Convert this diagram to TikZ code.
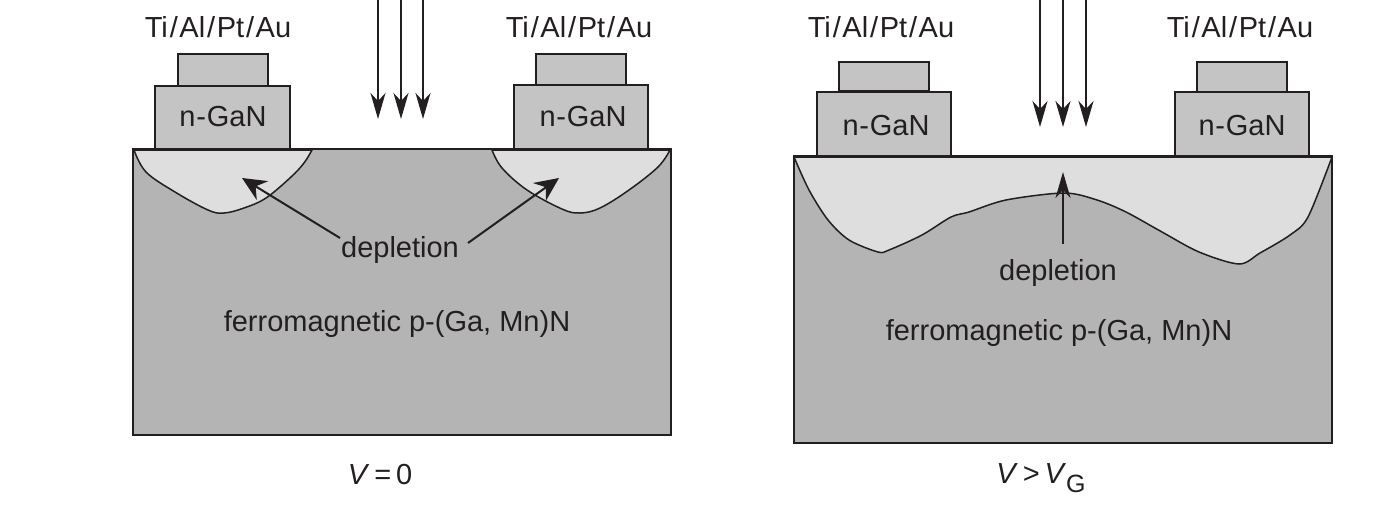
\documentclass[tikz,border=0pt]{standalone}
\usepackage{fontspec}
\setmainfont{Liberation Sans}
\usetikzlibrary{arrows.meta}
\definecolor{ink}{HTML}{231F20}
\definecolor{bulk}{HTML}{B4B4B4}
\definecolor{depl}{HTML}{DEDEDE}
\definecolor{pad}{HTML}{C4C4C4}
\newcommand{\metals}{Ti\kern2pt/\kern1.5ptAl\kern2pt/\kern1.5ptPt\kern2pt/\kern1.5ptAu}
\newcommand{\ngan}{n\kern0.8pt-\kern0.8ptGaN}
\tikzset{
  lbl/.style={text=ink,inner sep=0pt,font=\fontsize{29}{33}\selectfont},
  blk/.style={draw=ink,line width=1.7pt,fill=pad},
  bulkbox/.style={draw=ink,line width=1.8pt,fill=bulk},
  deplreg/.style={draw=ink,line width=1.5pt,fill=depl},
  arr/.style={draw=ink,line width=2pt,-{Stealth[length=26pt,width=15pt,inset=8pt]}},
  arrb/.style={draw=ink,line width=2pt,-{Stealth[length=24pt,width=22pt,inset=8pt]}},
}
\begin{document}
\begin{tikzpicture}[x=1pt,y=-1pt]
\useasboundingbox (0,0) rectangle (1391,506);
% left panel
\path[bulkbox] (133,149) rectangle (671,435);
\path[deplreg] plot[smooth,tension=0.6] coordinates {(134,150) (146,172) (175,192) (208,210) (224,213) (244,208) (266,198) (291,177) (304,163) (312,150)} -- cycle;
\path[deplreg] plot[smooth,tension=0.6] coordinates {(492,150) (502,168) (527,190) (562,209) (580,213) (600,208) (629,190) (658,167) (670,150)} -- cycle;
\draw[ink,line width=1.8pt] (133,149) -- (671,149);
\path[blk] (178,54) rectangle (268,86);
\path[blk] (155,86) rectangle (290,149);
\path[blk] (536,54) rectangle (626,85);
\path[blk] (514,85) rectangle (648,149);
\node[lbl] (lt1) at (218,27) {\metals};
\node[lbl] (lt2) at (579,27) {\metals};
\node[lbl] (ln1) at (223,117) {\ngan};
\node[lbl] (ln2) at (583,117) {\ngan};
\node[lbl] (ld) at (400,250) {depletion};
\node[lbl] (lf) at (397,324) {ferromagnetic p-(Ga, Mn)N};
\node[lbl] (lv) at (380,475) {\textit{V}\,=\,0};
\coordinate (la1) at (378,-2); \coordinate (la1e) at (378,119);
\coordinate (la2) at (401,-2); \coordinate (la2e) at (401,119);
\coordinate (la3) at (423,-2); \coordinate (la3e) at (423,119);
\draw[arr] (la1) -- (la1e);
\draw[arr] (la2) -- (la2e);
\draw[arr] (la3) -- (la3e);
\coordinate (ldt1) at (242,178); \coordinate (ldt2) at (559,178);
\coordinate (lds1) at (340,238); \coordinate (lds2) at (468,243);
\draw[arrb] (lds1) -- (ldt1);
\draw[arrb] (lds2) -- (ldt2);
% right panel
\path[bulkbox] (794,156) rectangle (1332,443);
\path[deplreg] plot[smooth,tension=0.5] coordinates {(794,157) (809,190) (828,220) (849,240) (878,252) (889,250) (922,235) (951,217) (969,212) (1006,200) (1064,193) (1097,200) (1126,212) (1162,232) (1199,252) (1239,264) (1260,253) (1290,235) (1308,217) (1332,157)} -- cycle;
\draw[ink,line width=1.8pt] (793,156) -- (1332,156);
\path[blk] (839,62) rectangle (929,91);
\path[blk] (817,92) rectangle (951,156);
\path[blk] (1197,62) rectangle (1287,92);
\path[blk] (1175,92) rectangle (1309,156);
\node[lbl] (rt1) at (881,27) {\metals};
\node[lbl] (rt2) at (1240,27) {\metals};
\node[lbl] (rn1) at (886,126) {\ngan};
\node[lbl] (rn2) at (1242,126) {\ngan};
\node[lbl] (rd) at (1058,273) {depletion};
\node[lbl] (rf) at (1059,333) {ferromagnetic p-(Ga, Mn)N};
\node[lbl] (rv) at (1041,478) {\textit{V}\,>\,\textit{V}\raisebox{-9pt}{\fontsize{25}{29}\selectfont G}};
\coordinate (ra1) at (1040,-2); \coordinate (ra1e) at (1040,127);
\coordinate (ra2) at (1063,-2); \coordinate (ra2e) at (1063,127);
\coordinate (ra3) at (1086,-2); \coordinate (ra3e) at (1086,127);
\draw[arr] (ra1) -- (ra1e);
\draw[arr] (ra2) -- (ra2e);
\draw[arr] (ra3) -- (ra3e);
\coordinate (rds) at (1063,244); \coordinate (rdt) at (1063,172);
\draw[arr] (rds) -- (rdt);
\end{tikzpicture}
\end{document}
